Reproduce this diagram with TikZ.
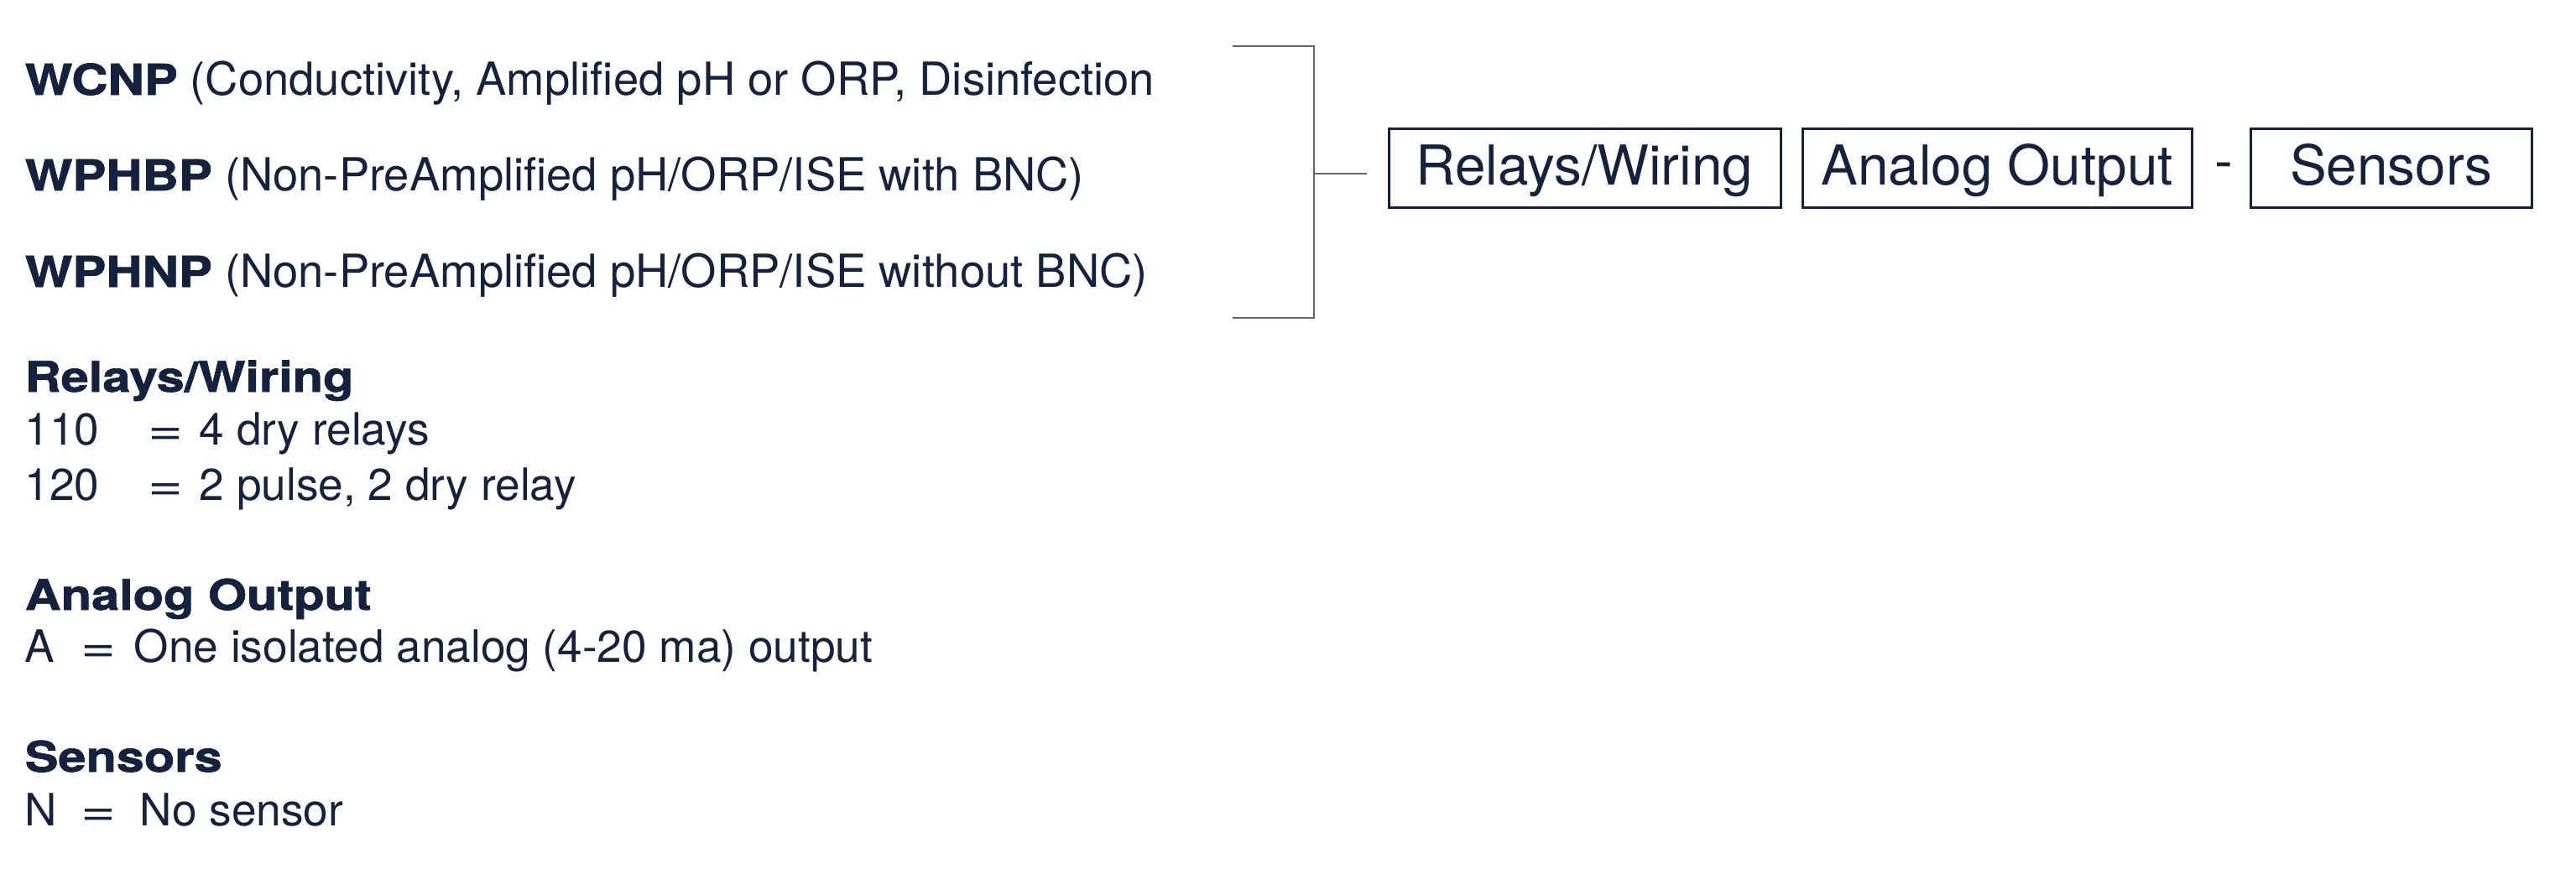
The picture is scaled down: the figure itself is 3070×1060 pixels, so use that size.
\documentclass[tikz,border=0pt]{standalone}
\usepackage{fontspec}
\usepackage{graphicx}
\setmainfont{TeX Gyre Heros}
\newfontfamily\headfont{TeX Gyre Heros}[FakeStretch=1.18,FakeBold=1.4]
\usepackage{tikz}
\usetikzlibrary{positioning,calc}
\definecolor{navy}{HTML}{14213F}
\definecolor{brgray}{HTML}{666666}
\definecolor{dashgray}{HTML}{222222}

\begin{document}
\begin{tikzpicture}[
  x=0.25pt, y=-0.25pt,
  txt/.style={anchor=base west, inner sep=0pt, text=navy,
              font=\fontsize{13.3}{15}\selectfont},
  lead/.style={txt, font=\fontsize{13.6}{15}\selectfont},
  head/.style={txt, font=\headfont\bfseries\fontsize{12.6}{15}\selectfont},
  eq/.style={txt, font=\fontsize{13.3}{15}\selectfont},
  optbox/.style={draw=navy, line width=0.75pt, text=navy, inner sep=0pt,
                 outer sep=0pt, font=\fontsize{16.4}{19}\selectfont,
                 minimum height=23.5pt, text height=12pt, text depth=2pt},
  bracket/.style={draw=brgray, line width=0.7pt}
]
  \useasboundingbox (0,0) rectangle (3070,1060);

  % --- Model codes (left list) ---
  \node[lead] (wcnp) at (29,113)
       {{\headfont\bfseries\fontsize{12.7}{15}\selectfont WCNP} (Conductivity, Amplified pH or ORP, Disinfection};
  \node[lead] (wphbp) at (29,227)
       {{\headfont\bfseries\fontsize{12.7}{15}\selectfont WPHBP} (Non-PreAmplified pH/ORP/ISE with BNC)};
  \node[lead] (wphnp) at (29,342)
       {{\headfont\bfseries\fontsize{12.7}{15}\selectfont WPHNP} (Non-PreAmplified pH/ORP/ISE without BNC)};

  % --- Bracket joining the three codes ---
  \coordinate (brtop) at (1469,55);
  \coordinate (brtr)  at (1566,55);
  \coordinate (brbr)  at (1566,379);
  \coordinate (brbot) at (1469,379);
  \coordinate (brmid) at (1566,207);
  \coordinate (tickend) at (1629,207);
  \draw[bracket] (brtop) -- (brtr) -- (brbr) -- (brbot);
  \draw[bracket] (brmid) -- (tickend);

  % --- Option boxes ---
  \node[optbox, minimum width=116.75pt, anchor=north west] (rw) at (1655,153)
       {Relays/Wiring};
  \node[optbox, minimum width=116pt, right=6.5pt of rw] (ao) {Analog Output};
  \node[optbox, minimum width=83.75pt, right=17.5pt of ao] (sn) {Sensors};
  \node[text=dashgray, inner sep=0pt, anchor=base,
        font=\fontsize{16.4}{19}\selectfont] (dash) at (2650,214) {-};

  % --- Relays/Wiring legend ---
  \node[head] (hrw) at (29,467) {Relays/Wiring};
  \node[txt] (k110) at (29,530) {110};
  \node[eq]  (e110) at (176,530) {\scalebox{1.35}[1]{=}};
  \node[txt] (v110) at (237,530) {4 dry relays};
  \node[txt] (k120) at (29,596) {120};
  \node[eq]  (e120) at (176,596) {\scalebox{1.35}[1]{=}};
  \node[txt] (v120) at (237,596) {2 pulse, 2 dry relay};

  % --- Analog Output legend ---
  \node[head] (hao) at (29,727) {Analog Output};
  \node[txt] (ka) at (29,789) {A};
  \node[eq]  (ea) at (96,789) {\scalebox{1.35}[1]{=}};
  \node[txt] (va) at (159,789) {One isolated analog (4-20 ma) output};

  % --- Sensors legend ---
  \node[head] (hsn) at (29,920) {Sensors};
  \node[txt] (kn) at (29,984) {N};
  \node[eq]  (en) at (96,984) {\scalebox{1.35}[1]{=}};
  \node[txt] (vn) at (166,984) {No sensor};
\end{tikzpicture}
\end{document}
